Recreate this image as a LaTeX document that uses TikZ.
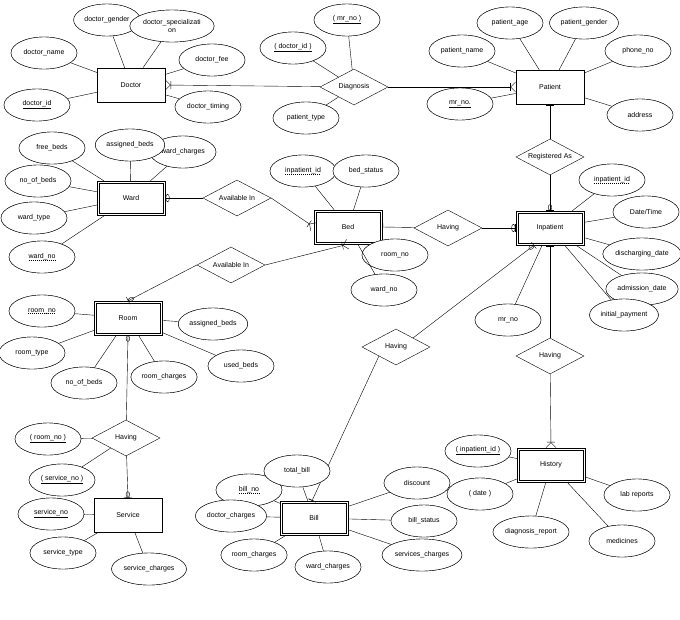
\documentclass[tikz,border=0pt]{standalone}
\usepackage{fontspec}
\setmainfont{Liberation Sans}
\usetikzlibrary{shapes.geometric,arrows.meta}
\newcommand{\dul}[1]{\tikz[baseline=(u.base)]{\node[inner sep=0pt,outer sep=0pt,draw=none,fill=none,shape=rectangle,minimum width=0pt,minimum height=0pt](u){#1};
  \draw[dash pattern=on 1pt off 1pt,line width=0.4pt] ([yshift=-1.5pt]u.base west)--([yshift=-1.5pt]u.base east);}}
\tikzset{
ent/.style={draw,rectangle,minimum width=68pt,minimum height=34pt,fill=white},
wk/.style={ent,path picture={\draw ([shift={(2pt,2pt)}]path picture bounding box.south west) rectangle ([shift={(-2pt,-2pt)}]path picture bounding box.north east);}},
rel/.style={draw,diamond,aspect=2,minimum width=68pt,minimum height=36pt,inner sep=0pt,fill=white},
att/.style={draw,ellipse,minimum width=66pt,minimum height=32pt,inner sep=1pt,align=center,fill=white},
one/.style={-{Bar[width=8pt]Bar[width=8pt]}},
many/.style={-{Bar[width=8pt] Straight Barb[reversed,length=5pt,width=10pt]}},
opt/.style={-{Ellipse[open,length=6pt,width=4pt] Bar[width=8pt]}},
optside/.style={-{Ellipse[open,length=4pt,width=8pt] Bar[width=8pt]}}
}
\begin{document}
\begin{tikzpicture}[x=1pt,y=-1pt,font=\fontsize{7}{8}\selectfont]
\useasboundingbox (0,0) rectangle (680,619);
%entities
\node[ent](doc) at (131,85) {Doctor};
\node[ent](pat) at (550,87) {Patient};
\node[wk](ward) at (131,198) {Ward};
\node[wk](bed) at (348,227) {Bed};
\node[wk](inp) at (550,228) {Inpatient};
\node[wk](room) at (128,318) {Room};
\node[ent](serv) at (128,515) {Service};
\node[wk](bill) at (314,518) {Bill};
\node[wk](hist) at (551,465) {History};
%relations
\node[rel](diag) at (354,87) {Diagnosis};
\node[rel](reg) at (550,157) {Registered As};
\node[rel](avw) at (237,198) {Available In};
\node[rel](hbi) at (448,228) {Having};
\node[rel](avr) at (231,265) {Available In};
\node[rel](hrs) at (126,438) {Having};
\node[rel](hib) at (396,347) {Having};
\node[rel](hih) at (550,356) {Having};
%relationship lines
\draw[many] (diag) -- (doc.east);
\draw[many] (diag) -- (pat.west);
\draw[one] (reg) -- (pat.south);
\draw[opt] (reg) -- (inp.north);
\draw[optside] (avw) -- (ward.east);
\draw[many] (avw.east) -- (bed.west);
\draw[one] (hbi) -- (bed.east);
\draw[optside] (hbi) -- (inp.west);
\draw[many] (avr.east) -- (bed.south);
\draw[opt] (avr.west) -- (room.north);
\draw[opt] (hrs) -- (room.south);
\draw[opt] (hrs) -- (serv.north);
\draw[opt] (hib.north east) -- ([xshift=-16pt]inp.south);
\draw[one] (hib.south west) -- ([xshift=-2pt]bill.north);
\draw[one] (hih) -- (inp.south);
\draw[many] (hih) -- (hist.north);
%attributes
\foreach \e/\p/\t in {
doc/{107,20}/doctor\_gender, doc/{172,26}/{doctor\_specializati\\on},
doc/{44,53}/doctor\_name, doc/{212,60}/doctor\_fee,
doc/{37,105}/\underline{doctor\_id}, doc/{208,107}/doctor\_timing,
diag/{347,20}/\underline{( mr\_no )}, diag/{293,48}/\underline{( doctor\_id )},
diag/{306,118}/patient\_type,
pat/{462,51}/patient\_name, pat/{510,23}/patient\_age,
pat/{584,23}/patient\_gender, pat/{638,51}/phone\_no,
pat/{460,104}/\underline{mr\_no.}, pat/{640,115}/address,
inp/{612,180}/\dul{inpatient\_id}, inp/{646,212}/{Date/Time},
inp/{642,254}/discharging\_date, inp/{642,289}/admission\_date,
inp/{624,315}/initial\_payment, inp/{508,320}/mr\_no,
bed/{303,171}/\dul{inpatient\_id}, bed/{366,171}/bed\_status,
bed/{395,255}/room\_no, bed/{384,290}/ward\_no,
ward/{52,148}/free\_beds, ward/{183,152}/ward\_charges,
ward/{130,145}/assigned\_beds,
ward/{38,181}/no\_of\_beds, ward/{34,218}/ward\_type,
ward/{42,257}/\dul{ward\_no},
room/{42,311}/\dul{room\_no}, room/{32,353}/room\_type,
room/{84,383}/no\_of\_beds, room/{164,377}/room\_charges,
room/{213,324}/assigned\_beds, room/{241,366}/used\_beds,
hrs/{48,439}/\underline{( room\_no )}, hrs/{62,480}/\underline{( service\_no )},
serv/{51,514}/\underline{service\_no}, serv/{63,553}/service\_type,
serv/{149,569}/service\_charges,
bill/{249,490}/\dul{bill\_no}, bill/{297,471}/total\_bill,
bill/{417,483}/discount, bill/{424,521}/bill\_status,
bill/{422,555}/services\_charges, bill/{328,567}/ward\_charges,
bill/{254,555}/room\_charges, bill/{231,516}/doctor\_charges,
hist/{478,451}/\underline{( inpatient\_id )}, hist/{480,494}/( date ),
hist/{531,532}/diagnosis\_report, hist/{622,541}/medicines,
hist/{637,495}/lab reports}{
\node[att](a) at (\p) {\t};
\draw (a) -- (\e);
\node[att] at (\p) {\t};
}
\end{tikzpicture}
\end{document}
